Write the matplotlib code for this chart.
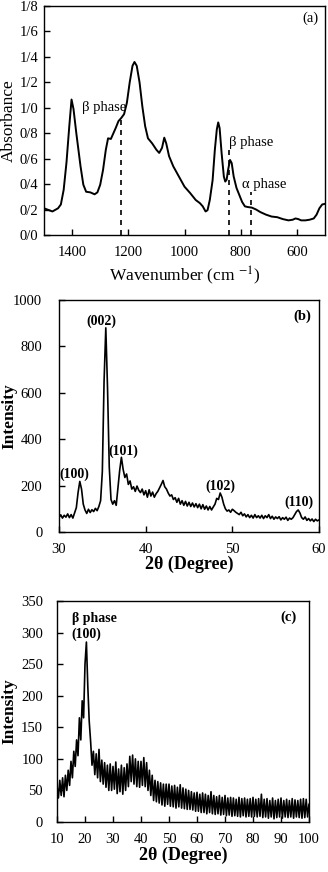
import numpy as np
import matplotlib
matplotlib.use("Agg")
from matplotlib import pyplot as plt

plt.rcParams['font.family'] = ['Liberation Serif', 'DejaVu Serif']
plt.rcParams['mathtext.fontset'] = 'stix'

# (a) FTIR spectrum
ftir_wn = [1500, 1470, 1450, 1440, 1430, 1420, 1410, 1402, 1395, 1385, 1370, 1360, 1350,
           1335, 1320, 1310, 1300, 1290, 1280, 1272, 1262, 1255, 1245, 1235, 1225, 1215,
           1205, 1195, 1185, 1178, 1170, 1160, 1150, 1140, 1130, 1115, 1100, 1090, 1080,
           1072, 1065, 1055, 1040, 1020, 1000, 980, 960, 945, 935, 925, 918, 910, 900,
           892, 885, 880, 875, 868, 860, 855, 850, 845, 838, 832, 825, 815, 805, 795, 785,
           775, 760, 745, 730, 710, 690, 670, 650, 630, 615, 605, 595, 585, 570, 555, 540,
           530, 520, 510, 500]
ftir_abs = [0.21, 0.185, 0.21, 0.24, 0.355, 0.57, 0.855, 1.065, 0.99, 0.80, 0.54, 0.395, 0.34,
            0.335, 0.32, 0.335, 0.395, 0.51, 0.67, 0.76, 0.755, 0.79, 0.84, 0.895, 0.92, 0.95,
            1.04, 1.20, 1.33, 1.36, 1.33, 1.20, 1.01, 0.855, 0.76, 0.72, 0.67, 0.645, 0.685,
            0.765, 0.72, 0.62, 0.54, 0.46, 0.38, 0.33, 0.275, 0.25, 0.225, 0.185, 0.195, 0.275, 0.43,
            0.67, 0.83, 0.885, 0.84, 0.645, 0.46, 0.42, 0.435, 0.51, 0.59, 0.565, 0.46, 0.37, 0.315, 0.26, 0.225,
            0.22, 0.215, 0.20, 0.18, 0.16, 0.145, 0.14, 0.125, 0.115, 0.12, 0.13, 0.125, 0.115, 0.115, 0.12, 0.13,
            0.16, 0.21, 0.24, 0.245]
ftir_marks = [(1227, 0.915), (841, 0.67), (765, 0.335)]
ftir_yticks = [0, 0.2, 0.4, 0.6, 0.8, 1.0, 1.2, 1.4, 1.6, 1.8]
ftir_ylabels = ['0/0', '0/2', '0/4', '0/6', '0/8', '1/0', '1/2', '1/4', '1/6', '1/8']

# (b) XRD of ZnO, 30-60 deg in 0.2 deg steps
xrd_b_start, xrd_b_step = 30.0, 0.2
xrd_b = [62, 74, 60, 72, 64, 78, 62, 75, 60, 82,
         105, 170, 218, 185, 120, 95, 80, 98, 84, 96,
         88, 102, 92, 110, 135, 260, 650, 880, 620, 280,
         140, 120, 135, 115, 190, 265, 322, 270, 235, 250,
         205, 220, 185, 195, 175, 198, 180, 170, 185, 160,
         178, 150, 182, 155, 172, 150, 165, 175, 190, 205,
         222, 195, 185, 168, 155, 160, 140, 148, 128, 145,
         120, 135, 115, 132, 112, 128, 110, 125, 108, 122,
         105, 120, 100, 118, 98, 112, 95, 110, 95, 108,
         120, 145, 140, 168, 150, 120, 100, 90, 95, 85,
         98, 92, 85, 80, 75, 85, 70, 78, 65, 75,
         62, 72, 60, 75, 62, 70, 60, 72, 58, 70,
         62, 75, 58, 68, 55, 65, 58, 66, 52, 62,
         55, 64, 50, 60, 55, 62, 75, 88, 95, 82,
         62, 55, 65, 50, 58, 48, 56, 45, 55, 48, 52]
xrd_b_peaks = [("(100)", 31.8, 250), ("(002)", 34.9, 910), ("(101)", 37.4, 350),
               ("(102)", 48.6, 197), ("(110)", 57.7, 130)]

# (c) XRD of PVDF, 10-100 deg in 0.5 deg steps
xrd_c_start, xrd_c_step = 10.0, 0.5
xrd_c = [58, 38, 66, 42, 70, 40, 74, 50, 82, 58, 96, 70, 112, 88, 130, 105, 165, 130, 192, 165,
         250, 285, 215, 160, 128, 90, 112, 75, 108, 70, 115, 64, 98, 60, 94, 55, 90, 50, 92, 50,
         88, 52, 95, 45, 84, 48, 90, 44, 86, 50, 92, 56, 104, 64, 106, 60, 100, 56, 96, 55,
         96, 58, 102, 56, 94, 50, 82, 42, 74, 34, 66, 32, 64, 30, 62, 27, 60, 25, 60, 28,
         60, 25, 57, 24, 58, 22, 55, 24, 59, 22, 54, 21, 52, 20, 50, 20, 48, 19, 46, 17,
         47, 17, 44, 15, 46, 15, 44, 13, 42, 15, 48, 13, 42, 12, 40, 13, 42, 11, 39, 12,
         42, 10, 38, 11, 39, 9, 38, 10, 36, 9, 39, 8, 37, 10, 38, 8, 36, 9, 37, 8,
         39, 9, 36, 8, 37, 9, 44, 7, 36, 8, 37, 6, 34, 8, 38, 5, 34, 7, 36, 8,
         38, 6, 34, 8, 36, 7, 34, 8, 37, 6, 35, 8, 34, 7, 36, 6, 37, 7, 36, 8, 28]


def style_axes(ax, size):
    for s in ax.spines.values():
        s.set_linewidth(1.0)
    ax.tick_params(direction='in', length=4, width=1, top=False, right=False,
                   labelsize=size)


fig = plt.figure(figsize=(3.28, 8.72), dpi=100)

# ---- panel (a)
ax = fig.add_axes([44/328, 637/872, 281/328, 229/872])
ax.plot(ftir_wn, ftir_abs, color='black', lw=1.4)
for wn, top in ftir_marks:
    ax.plot([wn, wn], [0, top], color='black', lw=1.2, ls=(0, (3, 3)))
ax.set_xlim(1500, 500)
ax.set_ylim(0, 1.8)
ax.set_xticks([1400, 1200, 1000, 800, 600])
ax.set_yticks(ftir_yticks)
ax.set_yticklabels(ftir_ylabels)
style_axes(ax, 10.5)
ax.tick_params(axis='x', pad=8)
ax.tick_params(axis='y', pad=4)
ax.set_xlabel('Wavenumber (cm $^{-1}$)', fontsize=12.5)
ax.set_ylabel('Absorbance', fontsize=12.5)
ax.xaxis.set_label_coords(0.5, -0.128)
ax.yaxis.set_label_coords(-0.095, 0.5)
ax.text(1365, 1.0, 'β phase', fontsize=10.5, va='center', ha='left')
ax.text(842, 0.73, 'β phase', fontsize=10.5, va='center', ha='left')
ax.text(796, 0.395, 'α phase', fontsize=10.5, va='center', ha='left')
ax.text(553, 1.70, '(a)', fontsize=10.5, va='center', ha='center')

# ---- panel (b)
ax = fig.add_axes([59/328, 340/872, 260/328, 232/872])
xb = xrd_b_start + xrd_b_step * np.arange(len(xrd_b))
ax.plot(xb, xrd_b, color='black', lw=1.2)
ax.set_xlim(30, 60)
ax.set_ylim(0, 1000)
ax.set_xticks([30, 40, 50, 60])
ax.set_yticks([0, 200, 400, 600, 800, 1000])
style_axes(ax, 10.5)
ax.tick_params(axis='x', pad=8)
ax.tick_params(axis='y', pad=12)
ax.set_xlabel('2θ (Degree)', fontsize=13, fontweight='bold')
ax.set_ylabel('Intensity', fontsize=12.5, fontweight='bold')
ax.xaxis.set_label_coords(0.5, -0.1)
ax.yaxis.set_label_coords(-0.16, 0.5)
for lab, px, py in xrd_b_peaks:
    ax.text(px, py, lab, fontsize=10, fontweight='bold', ha='center', va='center')
ax.text(58.1, 932, '(b)', fontsize=10.5, fontweight='bold', ha='center', va='center')

# ---- panel (c)
ax = fig.add_axes([57/328, 50/872, 252/328, 221/872])
xc = xrd_c_start + xrd_c_step * np.arange(len(xrd_c))
ax.plot(xc, xrd_c, color='black', lw=1.2)
ax.set_xlim(10, 100)
ax.set_ylim(0, 350)
ax.set_xticks(np.arange(10, 101, 10))
ax.set_yticks(np.arange(0, 351, 50))
style_axes(ax, 10.5)
ax.tick_params(axis='x', pad=8)
ax.tick_params(axis='y', pad=10)
ax.set_xlabel('2θ (Degree)', fontsize=13, fontweight='bold')
ax.set_ylabel('Intensity', fontsize=12.5, fontweight='bold')
ax.xaxis.set_label_coords(0.5, -0.11)
ax.yaxis.set_label_coords(-0.155, 0.5)
ax.text(15.2, 323, 'β phase', fontsize=10, fontweight='bold', ha='left', va='center')
ax.text(15.2, 298, '(100)', fontsize=10, fontweight='bold', ha='left', va='center')
ax.text(92.6, 324, '(c)', fontsize=10.5, fontweight='bold', ha='center', va='center')

fig.savefig('out.png', dpi=100)
